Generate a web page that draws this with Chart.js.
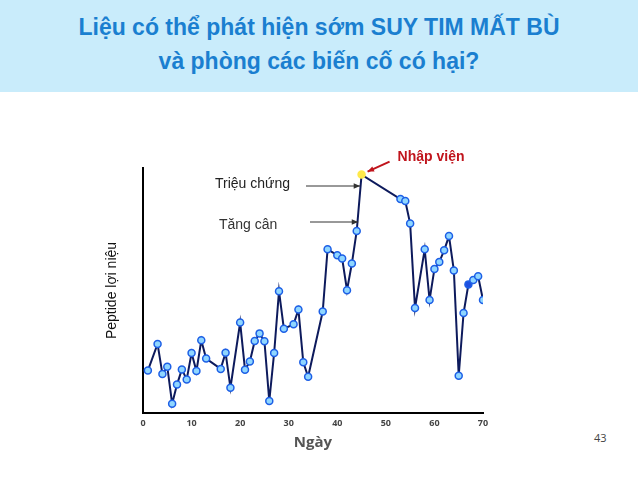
<!DOCTYPE html>
<html><head><meta charset="utf-8">
<script src="https://cdn.jsdelivr.net/npm/chart.js@4"></script>
<style>
body{margin:0;width:638px;height:478px;background:#fff;overflow:hidden;position:relative;font-family:"Liberation Sans",Arial,sans-serif}
#hdr{position:absolute;left:0;top:0;width:638px;height:92px;background:#c9ecfb;color:#1a7fd0;font-weight:bold;font-size:23px;text-align:center;line-height:34px;padding-top:10px;box-sizing:border-box}
#pg{position:absolute;left:594px;top:430px;font-size:11px;color:#444;font-family:"Open Sans"}
canvas{position:absolute;left:0;top:0}
</style></head><body>
<div id="hdr">Liệu có thể phát hiện sớm SUY TIM MẤT BÙ<br>và phòng các biến cố có hại?</div>
<div id="pg">43</div>
<canvas id="c" width="638" height="478"></canvas>
<script>
const days = [1,3,4,5,6,7,8,9,10,11,12,13,16,17,18,20,21,22,23,24,25,26,27,28,29,31,32,33,34,37,38,40,41,42,43,44,45,53,54,55,56,58,59,60,61,62,63,64,65,66,67,68,69,70];
const peptide = [17.3,28.2,15.9,18.9,3.8,11.6,17.8,13.7,24.5,17.1,29.7,22.2,18.0,24.6,10.3,36.9,17.7,21.0,29.4,32.5,29.3,4.9,24.5,49.7,34.4,36.2,42.2,20.7,14.8,41.4,66.8,64.4,63.1,50.1,61.0,74.3,97.3,87.3,86.5,77.3,42.9,66.8,46.1,58.8,61.6,66.4,72.2,58.2,15.2,40.8,52.5,54.3,55.8,46.1];
const xTicks = [0,10,20,30,40,50,60,70];
const admitDay = 45, solidDay = 67;

const fills = days.map(d => d === admitDay ? '#ffe94a' : d === solidDay ? '#1f4fe0' : '#8fd6ff');
const borders = days.map(d => d === admitDay ? '#ffe94a' : '#1d5fe6');

const notes = {
  id: 'notes',
  afterDraw(chart) {
    const c = chart.ctx, xs = chart.scales.x, ys = chart.scales.y;
    const arrow = (x1, y1, x2, y2, col) => {
      c.strokeStyle = col; c.fillStyle = col; c.lineWidth = col === '#c0141c' ? 2 : 1;
      c.beginPath(); c.moveTo(x1, y1); c.lineTo(x2, y2); c.stroke();
      const a = Math.atan2(y2 - y1, x2 - x1);
      c.beginPath(); c.moveTo(x2, y2);
      c.lineTo(x2 - 7 * Math.cos(a - 0.4), y2 - 7 * Math.sin(a - 0.4));
      c.lineTo(x2 - 7 * Math.cos(a + 0.4), y2 - 7 * Math.sin(a + 0.4));
      c.closePath(); c.fill();
    };
    const px = xs.getPixelForValue(admitDay), py = ys.getPixelForValue(97.3);
    c.save();
    c.font = 'bold 14px "Liberation Sans"'; c.fillStyle = '#c0141c'; c.textBaseline = 'middle';
    c.fillText('Nhập viện', px + 36, py - 17);
    arrow(px + 28, py - 13, px + 6, py - 3, '#c0141c');
    c.font = '14px "Liberation Sans"'; c.fillStyle = '#222';
    const ax = xs.getPixelForValue(44.3);
    c.fillText('Triệu chứng', 215, 184);
    arrow(306, 186, xs.getPixelForValue(44.7), 186, '#333');
    c.fillText('Tăng cân', 219, 225);
    arrow(310, 222, ax, 222, '#333');
    c.restore();
  }
};

new Chart(document.getElementById('c'), {
  type: 'line',
  data: { datasets: [{
    data: days.map((d, i) => ({ x: d, y: peptide[i] })),
    borderColor: '#0d1a5c', borderWidth: 2, tension: 0,
    pointRadius: 3.5, pointBorderWidth: 1.5,
    pointBackgroundColor: fills, pointBorderColor: borders
  }]},
  options: {
    responsive: false, animation: false,
    layout: { padding: { top: 168, right: 155, left: 104, bottom: 26 } },
    plugins: { legend: { display: false }, tooltip: { enabled: false } },
    scales: {
      x: {
        type: 'linear', min: 0, max: 70,
        afterBuildTicks: a => { a.ticks = xTicks.map(v => ({ value: v })); },
        afterFit: a => { a.height = 39; },
        grid: { display: false, drawTicks: false },
        border: { color: '#000', width: 2 },
        ticks: { color: '#444', font: { size: 9, weight: 'bold', family: 'Open Sans' }, padding: 5 },
        title: { display: true, text: 'Ngày', color: '#555', font: { size: 15, weight: 'bold', family: 'Open Sans' }, padding: 0 }
      },
      y: {
        min: 0, max: 100,
        afterFit: a => { a.width = 39; },
        grid: { display: false, drawTicks: false },
        border: { color: '#000', width: 2 },
        ticks: { display: false },
        title: { display: true, text: 'Peptide lợi niệu', color: '#111', font: { size: 14, family: 'Liberation Sans' }, padding: 0 }
      }
    }
  },
  plugins: [notes]
});
</script>
</body></html>
